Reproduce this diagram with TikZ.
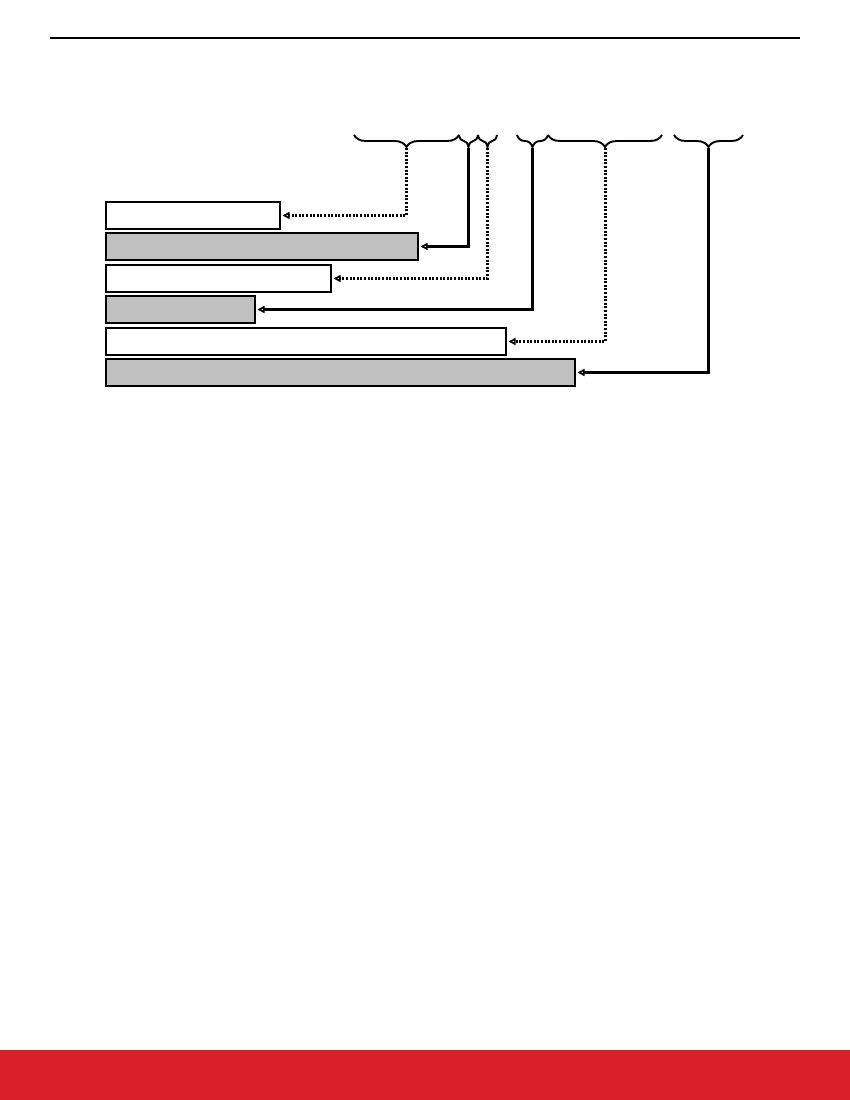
\documentclass[tikz,border=0pt]{standalone}
\usetikzlibrary{decorations.pathreplacing,arrows.meta}
\definecolor{slred}{HTML}{DA1F2B}
\definecolor{boxgray}{HTML}{C0C0C0}
\begin{document}
\begin{tikzpicture}[x=1pt,y=-1pt,
  fieldbox/.style={draw=black,line width=2pt,anchor=north west,inner sep=0pt,minimum height=27pt},
  whitebox/.style={fieldbox,fill=white},
  graybox/.style={fieldbox,fill=boxgray},
  bracedeco/.style={decorate,decoration={brace,mirror,amplitude=12pt,aspect=0.5},line width=1.9pt},
  tip/.style={-{Triangle[open,length=7pt,width=7pt,line width=1.6pt]}},
  dotline/.style={tip,line width=3pt,dash pattern=on 2pt off 1.6pt},
  solidline/.style={tip,line width=2.3pt},
  thickline/.style={tip,line width=3.2pt}]
\useasboundingbox (0,0) rectangle (850,1100);
\fill[white] (0,0) rectangle (850,1100);
% header rule and footer band
\coordinate (hl) at (50,38);
\coordinate (hr) at (800,38);
\draw[line width=1.1pt] (hl) -- (hr);
\fill[slred] (0,1050) rectangle (850,1100);
% braces
\draw[bracedeco] (354,135) -- (459,135);
\draw[bracedeco] (459,135) -- (478,135);
\draw[bracedeco] (478,135) -- (497,135);
\draw[bracedeco] (517,135) -- (548,135);
\draw[bracedeco] (548,135) -- (662,135);
\draw[bracedeco] (674,135) -- (743,135);
\coordinate (t1) at (406,148);
\coordinate (t2) at (468.5,148);
\coordinate (t3) at (487.5,148);
\coordinate (t4) at (532.5,148);
\coordinate (t5) at (605,148);
\coordinate (t6) at (708.5,148);
% boxes
\node[whitebox,minimum width=174pt] (b1) at (105,201) {};
\node[graybox,minimum width=312pt] (b2) at (105,232) {};
\node[whitebox,minimum width=225pt] (b3) at (105,264) {};
\node[graybox,minimum width=149pt] (b4) at (105,295) {};
\node[whitebox,minimum width=400pt] (b5) at (105,327) {};
\node[graybox,minimum width=469pt] (b6) at (105,358) {};
% connectors
\draw[dotline] (t1) |- ([xshift=1.5pt]b1.east);
\draw[thickline] (t2) |- ([xshift=1.5pt]b2.east);
\draw[dotline] (t3) |- ([xshift=1.5pt]b3.east);
\draw[solidline] (t4) |- ([xshift=1.5pt]b4.east);
\draw[dotline] (t5) |- ([xshift=1.5pt]b5.east);
\draw[solidline] (t6) |- ([xshift=1.5pt]b6.east);
\end{tikzpicture}
\end{document}
